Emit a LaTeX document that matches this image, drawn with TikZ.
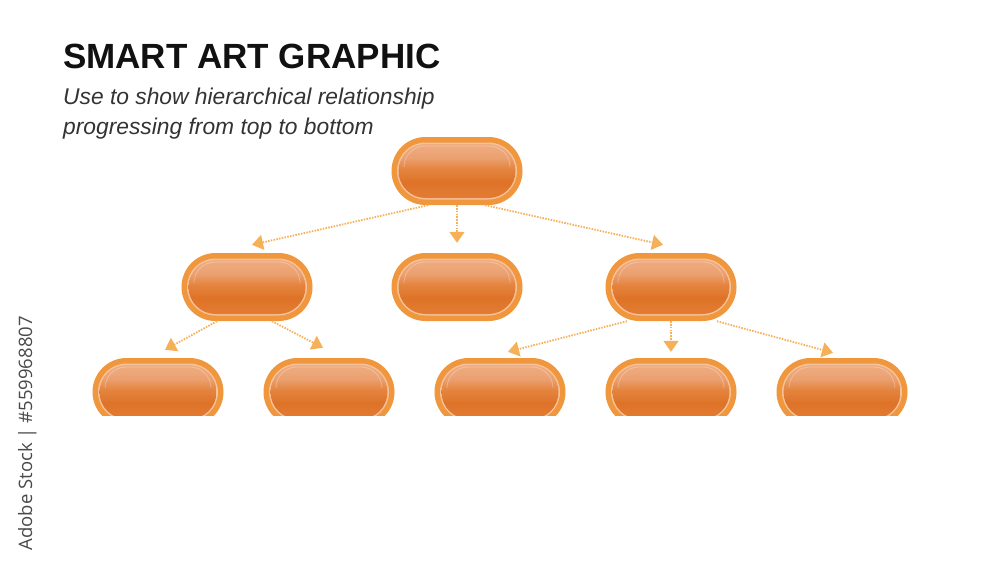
\documentclass[tikz,border=0pt]{standalone}
\usepackage{fontspec}
\setmainfont{Liberation Sans}
\newfontfamily\wmfont{Open Sans}
\usetikzlibrary{arrows.meta,shapes.misc}
\definecolor{ring}{HTML}{F0963D}
\definecolor{ringlight}{HTML}{F6C29C}
\definecolor{pbot}{HTML}{EC9A55}
\definecolor{pbot2}{HTML}{E5833A}
\definecolor{pdark}{HTML}{DE7328}
\definecolor{pmid}{HTML}{E4843F}
\definecolor{plight}{HTML}{EBA070}
\definecolor{plight2}{HTML}{F1B78E}
\definecolor{ptop}{HTML}{F6D0B6}
\definecolor{arrowc}{HTML}{F5B058}
\definecolor{titlec}{HTML}{111111}
\definecolor{subc}{HTML}{333333}
\definecolor{wmc}{HTML}{4A4A4A}
\pgfdeclareverticalshading{pillshade}{100bp}{color(0bp)=(pbot); color(14bp)=(pbot2); color(40bp)=(pdark); color(52bp)=(pmid); color(62bp)=(plight); color(85bp)=(plight2); color(100bp)=(ptop)}
\tikzset{
  pill/.style={shape=rounded rectangle, draw=none, fill=ring, minimum width=131pt, minimum height=68pt, inner sep=0pt,
    path picture={
      \begin{scope}[x=1pt,y=1pt,shift={(path picture bounding box.center)}]
        \fill[ringlight] (-31.5,28.5) -- (31.5,28.5) arc[start angle=90,end angle=-90,radius=28.5] -- (-31.5,-28.5) arc[start angle=270,end angle=90,radius=28.5] -- cycle;
        \shade[shading=pillshade] (-31.5,27) -- (31.5,27) arc[start angle=90,end angle=-90,radius=27] -- (-31.5,-27) arc[start angle=270,end angle=90,radius=27] -- cycle;
        \draw[white, opacity=0.25, line width=0.9pt] (-53,4) arc[start angle=180,end angle=90,radius=21] -- (32,25) arc[start angle=90,end angle=0,radius=21];
      \end{scope}
    }},
  conn/.style={draw=arrowc, line width=1.8pt, dash pattern=on 1.5pt off 1.3pt, -{Triangle[width=15pt,length=11pt,fill=arrowc]}},
}
\begin{document}
\begin{tikzpicture}[x=1pt,y=-1pt]
\useasboundingbox (0,0) rectangle (1000,563);
\fill[white] (0,0) rectangle (1000,563);
% title
\node[anchor=base west, inner sep=0pt, text=titlec, font=\bfseries\fontsize{35}{40}\selectfont] (title) at (63,68) {SMART ART GRAPHIC};
\node[anchor=base west, inner sep=0pt, text=subc, font=\itshape\fontsize{22.8}{26}\selectfont] (sub1) at (63,104) {Use to show hierarchical relationship};
\node[anchor=base west, inner sep=0pt, text=subc, font=\itshape\fontsize{22.8}{26}\selectfont] (sub2) at (63,134) {progressing from top to bottom};
% watermark label
\node[anchor=base east, rotate=90, inner sep=0pt, text=wmc, font=\wmfont\fontsize{18.5}{22}\selectfont] (wm) at (32,316) {Adobe Stock | \#559968807};
% nodes
\node[pill] (t) at (457,171) {};
\node[pill] (ml) at (247,287) {};
\node[pill] (mm) at (457,287) {};
\node[pill] (mr) at (671,287) {};
\begin{scope}
\clip (0,0) rectangle (1000,415);
\node[pill] (b1) at (158,392) {};
\node[pill] (b2) at (329,392) {};
\node[pill] (b3) at (500,392) {};
\node[pill] (b4) at (671,392) {};
\node[pill] (b5) at (842,392) {};
\end{scope}
% connectors
\draw[conn] ([xshift=-29pt]t.south) -- ([xshift=5pt,yshift=8pt]ml.north);
\draw[conn] (t.south) -- ([yshift=10pt]mm.north);
\draw[conn] ([xshift=28pt]t.south) -- ([xshift=-8pt,yshift=8pt]mr.north);
\draw[conn] ([xshift=-30pt]ml.south) -- ([xshift=7pt,yshift=8pt]b1.north);
\draw[conn] ([xshift=25pt]ml.south) -- ([xshift=-6pt,yshift=10pt]b2.north);
\draw[conn] ([xshift=-44pt]mr.south) -- ([xshift=8pt,yshift=6pt]b3.north);
\draw[conn] (mr.south) -- ([yshift=6pt]b4.north);
\draw[conn] ([xshift=46pt]mr.south) -- ([xshift=-9pt,yshift=5pt]b5.north);
\end{tikzpicture}
\end{document}
